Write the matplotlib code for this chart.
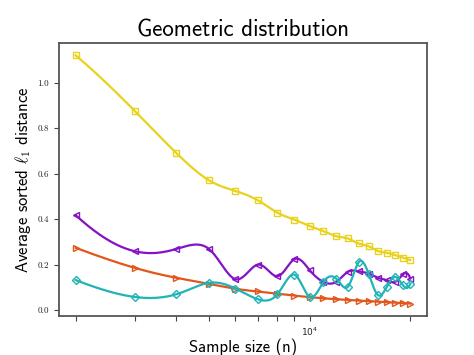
# coding: utf-8
#	Geometric distribution - average sorted l1 distance vs sample size
#--------------------------------

import numpy as np
import matplotlib
matplotlib.use('Agg')
import matplotlib.pyplot as plt
from matplotlib.ticker import NullFormatter


# --- Data
sampleSizes = [2000, 3000, 4000, 5000, 6000, 7000, 8000, 9000, 10000, 11000,
	12000, 13000, 14000, 15000, 16000, 17000, 18000, 19000, 20000]

yellowVals = [1.12, 0.876, 0.69, 0.571, 0.524, 0.483, 0.429, 0.398, 0.370, 0.347,
	0.325, 0.315, 0.293, 0.281, 0.260, 0.252, 0.242, 0.231, 0.220]
purpleVals = [0.417, 0.259, 0.269, 0.269, 0.136, 0.200, 0.149, 0.224, 0.176, 0.124,
	0.124, 0.168, 0.171, 0.161, 0.142, 0.132, 0.124, 0.157, 0.139]
orangeVals = [0.274, 0.186, 0.142, 0.116, 0.094, 0.082, 0.073, 0.064, 0.057, 0.052,
	0.048, 0.045, 0.042, 0.040, 0.037, 0.035, 0.033, 0.031, 0.029]
cyanVals = [0.132, 0.058, 0.070, 0.120, 0.095, 0.048, 0.069, 0.156, 0.058, 0.124,
	0.139, 0.102, 0.210, 0.161, 0.066, 0.102, 0.146, 0.110, 0.117]


# --- Cubic spline (not-a-knot), numpy only
def _spline(x, y, xs):
	x = np.asarray(x, float)
	y = np.asarray(y, float)
	n = len(x)
	h = np.diff(x)
	A = np.zeros((n, n))
	b = np.zeros(n)
	for i in range(1, n - 1):
		A[i, i - 1] = h[i - 1]
		A[i, i] = 2 * (h[i - 1] + h[i])
		A[i, i + 1] = h[i]
		b[i] = 6 * ((y[i + 1] - y[i]) / h[i] - (y[i] - y[i - 1]) / h[i - 1])
	A[0, 0], A[0, 1], A[0, 2] = h[1], -(h[0] + h[1]), h[0]
	A[-1, -3], A[-1, -2], A[-1, -1] = h[-1], -(h[-2] + h[-1]), h[-2]
	M = np.linalg.solve(A, b)
	idx = np.clip(np.searchsorted(x, xs) - 1, 0, n - 2)
	x0, x1 = x[idx], x[idx + 1]
	hh = x1 - x0
	return (M[idx] * (x1 - xs)**3 / (6 * hh) + M[idx + 1] * (xs - x0)**3 / (6 * hh)
		+ (y[idx] / hh - M[idx] * hh / 6) * (x1 - xs)
		+ (y[idx + 1] / hh - M[idx + 1] * hh / 6) * (xs - x0))


# --- Plot
plt.rcParams['mathtext.fontset'] = 'cm'
plt.rcParams['axes.formatter.use_mathtext'] = True

fig = plt.figure(figsize=(4.74, 3.55), dpi=100)
ax = fig.add_axes([0.1245, 0.110, 0.7765, 0.769])

xs = np.linspace(min(sampleSizes), max(sampleSizes), 400)
series = [
	(yellowVals, '#e8d21c', 's'),
	(orangeVals, '#e2561c', '>'),
	(purpleVals, '#8512c4', '<'),
	(cyanVals, '#20b4b6', 'D'),
]
for vals, col, mk in series:
	ax.plot(xs, _spline(sampleSizes, vals, xs), color=col, lw=1.6)
	ax.plot(sampleSizes, vals, ls='none', marker=mk, ms=4.6 if mk != 'D' else 4.0,
		mfc='none', mec=col, mew=1.0)

ax.set_xscale('log')
ax.xaxis.set_minor_formatter(NullFormatter())
ax.set_yticks([0.0, 0.2, 0.4, 0.6, 0.8, 1.0])
ax.set_yticklabels(['0.0', '0.2', '0.4', '0.6', '0.8', '1.0'], family='cmr10')
ax.tick_params(labelsize=6.5, colors='#444444', labelcolor='#222222')
ax.tick_params(which='minor', length=3.5, width=0.8, colors='#444444')
for sp in ax.spines.values():
	sp.set_color('#555555')
	sp.set_linewidth(1.3)

ax.set_title('Geometric distribution', family='cmss10', fontsize=16.5, pad=5)
ax.set_xlabel('Sample size (n)', family='cmss10', fontsize=12, labelpad=0)
ax.set_ylabel(r'Average sorted $\ell_1$ distance', family='cmss10', fontsize=12, labelpad=3)

fig.savefig('out.png', dpi=100)
